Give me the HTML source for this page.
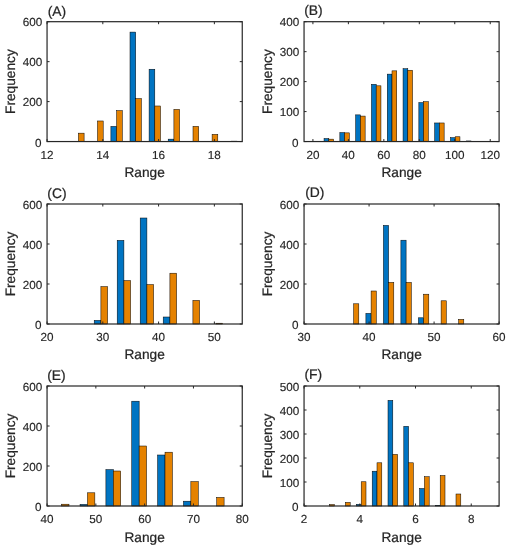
<!DOCTYPE html>
<html lang="en"><head><meta charset="utf-8"><title>Histograms of Range</title>
<style>html,body{margin:0;padding:0;background:#fff;}body{width:510px;height:550px;overflow:hidden;}svg{display:block;}text{text-rendering:geometricPrecision;font-family:"Liberation Sans",Arial,Helvetica,sans-serif;fill:#262626;stroke:#262626;stroke-width:0.22px;}.t{font-size:11.7px;stroke-width:0.15px;}.l{font-size:13.7px;}.p{font-size:13.85px;}</style></head><body>
<svg width="510" height="550" viewBox="0 0 510 550">
<rect x="0" y="0" width="510" height="550" fill="#ffffff"/>
<g>
<rect x="78.4" y="133.16" width="5.7" height="8.39" fill="#E58200" stroke="#000000" stroke-width="0.5"/>
<rect x="97.5" y="120.98" width="5.7" height="20.57" fill="#E58200" stroke="#000000" stroke-width="0.5"/>
<rect x="110.9" y="126.37" width="5.7" height="15.18" fill="#0074C2" stroke="#000000" stroke-width="0.5"/>
<rect x="116.6" y="110.59" width="5.7" height="30.96" fill="#E58200" stroke="#000000" stroke-width="0.5"/>
<rect x="130" y="32.09" width="5.7" height="109.46" fill="#0074C2" stroke="#000000" stroke-width="0.5"/>
<rect x="135.7" y="98.6" width="5.7" height="42.95" fill="#E58200" stroke="#000000" stroke-width="0.5"/>
<rect x="149.1" y="69.24" width="5.7" height="72.31" fill="#0074C2" stroke="#000000" stroke-width="0.5"/>
<rect x="154.8" y="105.99" width="5.7" height="35.56" fill="#E58200" stroke="#000000" stroke-width="0.5"/>
<rect x="168.2" y="139.15" width="5.7" height="2.4" fill="#0074C2" stroke="#000000" stroke-width="0.5"/>
<rect x="173.9" y="109.39" width="5.7" height="32.16" fill="#E58200" stroke="#000000" stroke-width="0.5"/>
<rect x="193" y="126.37" width="5.7" height="15.18" fill="#E58200" stroke="#000000" stroke-width="0.5"/>
<rect x="212.1" y="134.36" width="5.7" height="7.19" fill="#E58200" stroke="#000000" stroke-width="0.5"/>
<rect x="231.2" y="141.15" width="5.7" height="0.4" fill="#E58200" stroke="#000000" stroke-width="0.5"/>
<rect x="47.05" y="21.7" width="195.2" height="119.85" fill="none" stroke="#262626" stroke-width="1.2"/>
<path d="M47.05 141.55v-2.5M47.05 21.7v2.5M102.82 141.55v-2.5M102.82 21.7v2.5M158.59 141.55v-2.5M158.59 21.7v2.5M214.36 141.55v-2.5M214.36 21.7v2.5M47.05 141.55h2.5M242.25 141.55h-2.5M47.05 101.6h2.5M242.25 101.6h-2.5M47.05 61.65h2.5M242.25 61.65h-2.5M47.05 21.7h2.5M242.25 21.7h-2.5" stroke="#262626" stroke-width="1" fill="none"/>
<text class="t" x="47.05" y="158.55" text-anchor="middle">12</text>
<text class="t" x="102.82" y="158.55" text-anchor="middle">14</text>
<text class="t" x="158.59" y="158.55" text-anchor="middle">16</text>
<text class="t" x="214.36" y="158.55" text-anchor="middle">18</text>
<text class="t" x="41.55" y="146.64" text-anchor="end">0</text>
<text class="t" x="42.15" y="106.39" text-anchor="end">200</text>
<text class="t" x="42.15" y="66.14" text-anchor="end">400</text>
<text class="t" x="42.15" y="25.89" text-anchor="end">600</text>
<text class="l" x="144.65" y="176.95" text-anchor="middle">Range</text>
<text class="l" transform="translate(15.45 81.62) rotate(-90)" text-anchor="middle">Frequency</text>
<text class="p" x="47.65" y="15.5">(A)</text>
</g>
<g>
<rect x="324.05" y="138.55" width="4.75" height="3" fill="#0074C2" stroke="#000000" stroke-width="0.5"/>
<rect x="328.8" y="139.15" width="4.75" height="2.4" fill="#E58200" stroke="#000000" stroke-width="0.5"/>
<rect x="339.85" y="132.56" width="4.75" height="8.99" fill="#0074C2" stroke="#000000" stroke-width="0.5"/>
<rect x="344.6" y="132.86" width="4.75" height="8.69" fill="#E58200" stroke="#000000" stroke-width="0.5"/>
<rect x="355.65" y="114.88" width="4.75" height="26.67" fill="#0074C2" stroke="#000000" stroke-width="0.5"/>
<rect x="360.4" y="116.08" width="4.75" height="25.47" fill="#E58200" stroke="#000000" stroke-width="0.5"/>
<rect x="371.45" y="84.32" width="4.75" height="57.23" fill="#0074C2" stroke="#000000" stroke-width="0.5"/>
<rect x="376.2" y="85.82" width="4.75" height="55.73" fill="#E58200" stroke="#000000" stroke-width="0.5"/>
<rect x="387.25" y="74.13" width="4.75" height="67.42" fill="#0074C2" stroke="#000000" stroke-width="0.5"/>
<rect x="392" y="70.84" width="4.75" height="70.71" fill="#E58200" stroke="#000000" stroke-width="0.5"/>
<rect x="403.05" y="68.74" width="4.75" height="72.81" fill="#0074C2" stroke="#000000" stroke-width="0.5"/>
<rect x="407.8" y="70.24" width="4.75" height="71.31" fill="#E58200" stroke="#000000" stroke-width="0.5"/>
<rect x="418.85" y="102.6" width="4.75" height="38.95" fill="#0074C2" stroke="#000000" stroke-width="0.5"/>
<rect x="423.6" y="101.7" width="4.75" height="39.85" fill="#E58200" stroke="#000000" stroke-width="0.5"/>
<rect x="434.65" y="122.97" width="4.75" height="18.58" fill="#0074C2" stroke="#000000" stroke-width="0.5"/>
<rect x="439.4" y="122.97" width="4.75" height="18.58" fill="#E58200" stroke="#000000" stroke-width="0.5"/>
<rect x="450.45" y="137.65" width="4.75" height="3.9" fill="#0074C2" stroke="#000000" stroke-width="0.5"/>
<rect x="455.2" y="136.76" width="4.75" height="4.79" fill="#E58200" stroke="#000000" stroke-width="0.5"/>
<rect x="466.25" y="140.95" width="4.75" height="0.6" fill="#0074C2" stroke="#000000" stroke-width="0.5"/>
<rect x="471" y="141.25" width="4.75" height="0.3" fill="#E58200" stroke="#000000" stroke-width="0.5"/>
<rect x="304.05" y="21.7" width="195.05" height="119.85" fill="none" stroke="#262626" stroke-width="1.2"/>
<path d="M312.92 141.55v-2.5M312.92 21.7v2.5M348.38 141.55v-2.5M348.38 21.7v2.5M383.84 141.55v-2.5M383.84 21.7v2.5M419.31 141.55v-2.5M419.31 21.7v2.5M454.77 141.55v-2.5M454.77 21.7v2.5M490.23 141.55v-2.5M490.23 21.7v2.5M304.05 141.55h2.5M499.1 141.55h-2.5M304.05 111.59h2.5M499.1 111.59h-2.5M304.05 81.62h2.5M499.1 81.62h-2.5M304.05 51.66h2.5M499.1 51.66h-2.5M304.05 21.7h2.5M499.1 21.7h-2.5" stroke="#262626" stroke-width="1" fill="none"/>
<text class="t" x="312.92" y="158.55" text-anchor="middle">20</text>
<text class="t" x="348.38" y="158.55" text-anchor="middle">40</text>
<text class="t" x="383.84" y="158.55" text-anchor="middle">60</text>
<text class="t" x="419.31" y="158.55" text-anchor="middle">80</text>
<text class="t" x="454.77" y="158.55" text-anchor="middle">100</text>
<text class="t" x="490.23" y="158.55" text-anchor="middle">120</text>
<text class="t" x="298.55" y="146.64" text-anchor="end">0</text>
<text class="t" x="299.15" y="116.45" text-anchor="end">100</text>
<text class="t" x="299.15" y="86.27" text-anchor="end">200</text>
<text class="t" x="299.15" y="56.08" text-anchor="end">300</text>
<text class="t" x="299.15" y="25.89" text-anchor="end">400</text>
<text class="l" x="401.58" y="176.95" text-anchor="middle">Range</text>
<text class="l" transform="translate(272.45 81.62) rotate(-90)" text-anchor="middle">Frequency</text>
<text class="p" x="304.25" y="15.25">(B)</text>
</g>
<g>
<rect x="94.2" y="320.4" width="6.7" height="3.6" fill="#0074C2" stroke="#000000" stroke-width="0.5"/>
<rect x="100.9" y="286.6" width="6.7" height="37.4" fill="#E58200" stroke="#000000" stroke-width="0.5"/>
<rect x="117.2" y="240.4" width="6.7" height="83.6" fill="#0074C2" stroke="#000000" stroke-width="0.5"/>
<rect x="123.9" y="280.6" width="6.7" height="43.4" fill="#E58200" stroke="#000000" stroke-width="0.5"/>
<rect x="140.2" y="218" width="6.7" height="106" fill="#0074C2" stroke="#000000" stroke-width="0.5"/>
<rect x="146.9" y="284.6" width="6.7" height="39.4" fill="#E58200" stroke="#000000" stroke-width="0.5"/>
<rect x="163.2" y="317" width="6.7" height="7" fill="#0074C2" stroke="#000000" stroke-width="0.5"/>
<rect x="169.9" y="273.2" width="6.7" height="50.8" fill="#E58200" stroke="#000000" stroke-width="0.5"/>
<rect x="192.9" y="300.4" width="6.7" height="23.6" fill="#E58200" stroke="#000000" stroke-width="0.5"/>
<rect x="215.9" y="323.2" width="6.7" height="0.8" fill="#E58200" stroke="#000000" stroke-width="0.5"/>
<rect x="47.05" y="204" width="195.2" height="120" fill="none" stroke="#262626" stroke-width="1.2"/>
<path d="M47.05 324v-2.5M47.05 204v2.5M102.82 324v-2.5M102.82 204v2.5M158.59 324v-2.5M158.59 204v2.5M214.36 324v-2.5M214.36 204v2.5M47.05 324h2.5M242.25 324h-2.5M47.05 284h2.5M242.25 284h-2.5M47.05 244h2.5M242.25 244h-2.5M47.05 204h2.5M242.25 204h-2.5" stroke="#262626" stroke-width="1" fill="none"/>
<text class="t" x="47.05" y="341" text-anchor="middle">20</text>
<text class="t" x="102.82" y="341" text-anchor="middle">30</text>
<text class="t" x="158.59" y="341" text-anchor="middle">40</text>
<text class="t" x="214.36" y="341" text-anchor="middle">50</text>
<text class="t" x="41.55" y="328.64" text-anchor="end">0</text>
<text class="t" x="42.15" y="288.64" text-anchor="end">200</text>
<text class="t" x="42.15" y="248.64" text-anchor="end">400</text>
<text class="t" x="42.15" y="208.64" text-anchor="end">600</text>
<text class="l" x="144.65" y="359.4" text-anchor="middle">Range</text>
<text class="l" transform="translate(15.45 264) rotate(-90)" text-anchor="middle">Frequency</text>
<text class="p" x="47.35" y="197.55">(C)</text>
</g>
<g>
<rect x="353.6" y="303.8" width="5.2" height="20.2" fill="#E58200" stroke="#000000" stroke-width="0.5"/>
<rect x="365.9" y="313.4" width="5.2" height="10.6" fill="#0074C2" stroke="#000000" stroke-width="0.5"/>
<rect x="371.1" y="291" width="5.2" height="33" fill="#E58200" stroke="#000000" stroke-width="0.5"/>
<rect x="383.4" y="225.4" width="5.2" height="98.6" fill="#0074C2" stroke="#000000" stroke-width="0.5"/>
<rect x="388.6" y="282.4" width="5.2" height="41.6" fill="#E58200" stroke="#000000" stroke-width="0.5"/>
<rect x="400.9" y="240.2" width="5.2" height="83.8" fill="#0074C2" stroke="#000000" stroke-width="0.5"/>
<rect x="406.1" y="282.4" width="5.2" height="41.6" fill="#E58200" stroke="#000000" stroke-width="0.5"/>
<rect x="418.4" y="317.8" width="5.2" height="6.2" fill="#0074C2" stroke="#000000" stroke-width="0.5"/>
<rect x="423.6" y="294.2" width="5.2" height="29.8" fill="#E58200" stroke="#000000" stroke-width="0.5"/>
<rect x="441.1" y="300.8" width="5.2" height="23.2" fill="#E58200" stroke="#000000" stroke-width="0.5"/>
<rect x="458.6" y="319.4" width="5.2" height="4.6" fill="#E58200" stroke="#000000" stroke-width="0.5"/>
<rect x="304.05" y="204" width="195.05" height="120" fill="none" stroke="#262626" stroke-width="1.2"/>
<path d="M304.05 324v-2.5M304.05 204v2.5M369.07 324v-2.5M369.07 204v2.5M434.08 324v-2.5M434.08 204v2.5M499.1 324v-2.5M499.1 204v2.5M304.05 324h2.5M499.1 324h-2.5M304.05 284h2.5M499.1 284h-2.5M304.05 244h2.5M499.1 244h-2.5M304.05 204h2.5M499.1 204h-2.5" stroke="#262626" stroke-width="1" fill="none"/>
<text class="t" x="304.05" y="341" text-anchor="middle">30</text>
<text class="t" x="369.07" y="341" text-anchor="middle">40</text>
<text class="t" x="434.08" y="341" text-anchor="middle">50</text>
<text class="t" x="499.1" y="341" text-anchor="middle">60</text>
<text class="t" x="298.55" y="328.64" text-anchor="end">0</text>
<text class="t" x="299.15" y="288.64" text-anchor="end">200</text>
<text class="t" x="299.15" y="248.64" text-anchor="end">400</text>
<text class="t" x="299.15" y="208.64" text-anchor="end">600</text>
<text class="l" x="401.58" y="359.4" text-anchor="middle">Range</text>
<text class="l" transform="translate(272.45 264) rotate(-90)" text-anchor="middle">Frequency</text>
<text class="p" x="305.25" y="197.4">(D)</text>
</g>
<g>
<rect x="61.6" y="504.2" width="7.4" height="1.8" fill="#E58200" stroke="#000000" stroke-width="0.5"/>
<rect x="80.05" y="504.4" width="7.4" height="1.6" fill="#0074C2" stroke="#000000" stroke-width="0.5"/>
<rect x="87.45" y="492.8" width="7.4" height="13.2" fill="#E58200" stroke="#000000" stroke-width="0.5"/>
<rect x="105.9" y="469.6" width="7.4" height="36.4" fill="#0074C2" stroke="#000000" stroke-width="0.5"/>
<rect x="113.3" y="471" width="7.4" height="35" fill="#E58200" stroke="#000000" stroke-width="0.5"/>
<rect x="131.75" y="401.2" width="7.4" height="104.8" fill="#0074C2" stroke="#000000" stroke-width="0.5"/>
<rect x="139.15" y="446" width="7.4" height="60" fill="#E58200" stroke="#000000" stroke-width="0.5"/>
<rect x="157.6" y="455" width="7.4" height="51" fill="#0074C2" stroke="#000000" stroke-width="0.5"/>
<rect x="165" y="452.2" width="7.4" height="53.8" fill="#E58200" stroke="#000000" stroke-width="0.5"/>
<rect x="183.45" y="501.2" width="7.4" height="4.8" fill="#0074C2" stroke="#000000" stroke-width="0.5"/>
<rect x="190.85" y="481.6" width="7.4" height="24.4" fill="#E58200" stroke="#000000" stroke-width="0.5"/>
<rect x="216.7" y="497.4" width="7.4" height="8.6" fill="#E58200" stroke="#000000" stroke-width="0.5"/>
<rect x="47.05" y="386" width="195.2" height="120" fill="none" stroke="#262626" stroke-width="1.2"/>
<path d="M47.05 506v-2.5M47.05 386v2.5M95.85 506v-2.5M95.85 386v2.5M144.65 506v-2.5M144.65 386v2.5M193.45 506v-2.5M193.45 386v2.5M242.25 506v-2.5M242.25 386v2.5M47.05 506h2.5M242.25 506h-2.5M47.05 466h2.5M242.25 466h-2.5M47.05 426h2.5M242.25 426h-2.5M47.05 386h2.5M242.25 386h-2.5" stroke="#262626" stroke-width="1" fill="none"/>
<text class="t" x="47.05" y="523" text-anchor="middle">40</text>
<text class="t" x="95.85" y="523" text-anchor="middle">50</text>
<text class="t" x="144.65" y="523" text-anchor="middle">60</text>
<text class="t" x="193.45" y="523" text-anchor="middle">70</text>
<text class="t" x="242.25" y="523" text-anchor="middle">80</text>
<text class="t" x="41.55" y="510.99" text-anchor="end">0</text>
<text class="t" x="42.15" y="470.96" text-anchor="end">200</text>
<text class="t" x="42.15" y="430.92" text-anchor="end">400</text>
<text class="t" x="42.15" y="390.89" text-anchor="end">600</text>
<text class="l" x="144.65" y="542" text-anchor="middle">Range</text>
<text class="l" transform="translate(15.45 446) rotate(-90)" text-anchor="middle">Frequency</text>
<text class="p" x="47.25" y="379.7">(E)</text>
</g>
<g>
<rect x="329.6" y="504.56" width="4.8" height="1.44" fill="#E58200" stroke="#000000" stroke-width="0.5"/>
<rect x="345.4" y="502.4" width="4.8" height="3.6" fill="#E58200" stroke="#000000" stroke-width="0.5"/>
<rect x="356.4" y="504.32" width="4.8" height="1.68" fill="#0074C2" stroke="#000000" stroke-width="0.5"/>
<rect x="361.2" y="481.76" width="4.8" height="24.24" fill="#E58200" stroke="#000000" stroke-width="0.5"/>
<rect x="372.2" y="471.2" width="4.8" height="34.8" fill="#0074C2" stroke="#000000" stroke-width="0.5"/>
<rect x="377" y="462.8" width="4.8" height="43.2" fill="#E58200" stroke="#000000" stroke-width="0.5"/>
<rect x="388" y="400.4" width="4.8" height="105.6" fill="#0074C2" stroke="#000000" stroke-width="0.5"/>
<rect x="392.8" y="454.4" width="4.8" height="51.6" fill="#E58200" stroke="#000000" stroke-width="0.5"/>
<rect x="403.8" y="426.32" width="4.8" height="79.68" fill="#0074C2" stroke="#000000" stroke-width="0.5"/>
<rect x="408.6" y="462.8" width="4.8" height="43.2" fill="#E58200" stroke="#000000" stroke-width="0.5"/>
<rect x="419.6" y="488.48" width="4.8" height="17.52" fill="#0074C2" stroke="#000000" stroke-width="0.5"/>
<rect x="424.4" y="476.72" width="4.8" height="29.28" fill="#E58200" stroke="#000000" stroke-width="0.5"/>
<rect x="435.4" y="505.28" width="4.8" height="0.72" fill="#0074C2" stroke="#000000" stroke-width="0.5"/>
<rect x="440.2" y="475.52" width="4.8" height="30.48" fill="#E58200" stroke="#000000" stroke-width="0.5"/>
<rect x="456" y="494" width="4.8" height="12" fill="#E58200" stroke="#000000" stroke-width="0.5"/>
<rect x="304.05" y="386" width="195.05" height="120" fill="none" stroke="#262626" stroke-width="1.2"/>
<path d="M304.05 506v-2.5M304.05 386v2.5M359.78 506v-2.5M359.78 386v2.5M415.51 506v-2.5M415.51 386v2.5M471.24 506v-2.5M471.24 386v2.5M304.05 506h2.5M499.1 506h-2.5M304.05 482h2.5M499.1 482h-2.5M304.05 458h2.5M499.1 458h-2.5M304.05 434h2.5M499.1 434h-2.5M304.05 410h2.5M499.1 410h-2.5M304.05 386h2.5M499.1 386h-2.5" stroke="#262626" stroke-width="1" fill="none"/>
<text class="t" x="304.05" y="523" text-anchor="middle">2</text>
<text class="t" x="359.78" y="523" text-anchor="middle">4</text>
<text class="t" x="415.51" y="523" text-anchor="middle">6</text>
<text class="t" x="471.24" y="523" text-anchor="middle">8</text>
<text class="t" x="298.55" y="510.99" text-anchor="end">0</text>
<text class="t" x="299.15" y="486.97" text-anchor="end">100</text>
<text class="t" x="299.15" y="462.95" text-anchor="end">200</text>
<text class="t" x="299.15" y="438.93" text-anchor="end">300</text>
<text class="t" x="299.15" y="414.91" text-anchor="end">400</text>
<text class="t" x="299.15" y="390.89" text-anchor="end">500</text>
<text class="l" x="401.58" y="542" text-anchor="middle">Range</text>
<text class="l" transform="translate(272.45 446) rotate(-90)" text-anchor="middle">Frequency</text>
<text class="p" x="304.4" y="379.2">(F)</text>
</g>
</svg></body></html>
